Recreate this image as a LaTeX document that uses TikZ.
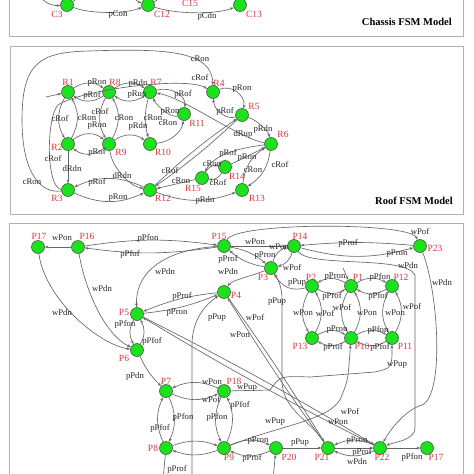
\documentclass[tikz,border=0pt]{standalone}
\usepackage{fontspec}
\setmainfont{Liberation Serif}
\usetikzlibrary{arrows.meta}
\definecolor{stgreen}{RGB}{30,225,30}
\definecolor{nlred}{RGB}{210,55,60}
\begin{document}
\begin{tikzpicture}[x=1pt,y=-1pt,
 st/.style={circle,draw=black!75,fill=stgreen,line width=0.5pt,minimum size=13pt,inner sep=0pt},
 nl/.style={text=nlred,font=\fontsize{9.5}{9.5}\selectfont,inner sep=0pt},
 el/.style={text=black!85,font=\fontsize{8.7}{8.7}\selectfont,inner sep=0pt},
 ed/.style={draw=black!60,line width=0.65pt,-{Stealth[length=3.8pt,width=2.8pt]}},
 ln/.style={draw=black!60,line width=0.65pt},
 frame/.style={draw=black!30,line width=0.9pt},
 ttl/.style={font=\bfseries\fontsize{10.5}{10.5}\selectfont,anchor=east,inner sep=0pt}]
\useasboundingbox (0,0) rectangle (474,474);
\clip (0,0) rectangle (474,474);
\fill[white] (0,0) rectangle (474,474);
% ---------------- frames
\draw[frame] (9,-5) rectangle (463,36);
\draw[frame] (10,46) rectangle (463,214);
\draw[frame] (9,223) rectangle (463,490);
\node[ttl] (t1) at (452,22) {Chassis FSM Model};
\node[ttl] (t2) at (453,201) {Roof FSM Model};
% ---------------- chassis
\node[st] (C3) at (67,5) {};
\node[st] (C12) at (148,5) {};
\node[st] (C13) at (240,5) {};
\node[nl] (C3l) at (57,14) {C3};
\node[nl] (C12l) at (162,14) {C12};
\node[nl] (C13l) at (254,14) {C13};
\node[nl] (C15l) at (190,3) {C15};
\coordinate (cA) at (36,-8);
\coordinate (cB) at (95,-10);
\coordinate (cC) at (122,-10);
\coordinate (cD) at (170,-10);
\draw[ed] (cA) .. controls (42,2) and (52,6) .. (C3);
\draw[ln] (C3) .. controls (78,-2) and (88,-6) .. (cB);
\draw[ed] (cC) .. controls (132,-4) and (138,2) .. (C12);
\draw[ln] (C12) .. controls (158,0) and (164,-6) .. (cD);
\draw[ed] (C3) .. controls (90,14) and (125,14) .. (C12);
\draw[ed] (C12) .. controls (175,14) and (215,15) .. (C13);
\node[el] (lc1) at (118,15) {pCon};
\node[el] (lc2) at (207,16) {pCdn};
% ---------------- roof
\node[st] (R1) at (68,92) {};
\node[st] (R8) at (109,92) {};
\node[st] (R7) at (150,92) {};
\node[st] (R4) at (213,92) {};
\node[st] (R5) at (242,115) {};
\node[st] (R6) at (271,144) {};
\node[st] (R11) at (184,114) {};
\node[st] (R2) at (68,144) {};
\node[st] (R9) at (109,144) {};
\node[st] (R10) at (150,144) {};
\node[st] (R3) at (68,190) {};
\node[st] (R12) at (150,190) {};
\node[st] (R15) at (202,178) {};
\node[st] (R14) at (225,167) {};
\node[st] (R13) at (242,190) {};
\node[nl] (R1l) at (68,82) {R1};
\node[nl] (R8l) at (115,82) {R8};
\node[nl] (R7l) at (156,82) {R7};
\node[nl] (R4l) at (219,83) {R4};
\node[nl] (R5l) at (254,106) {R5};
\node[nl] (R6l) at (283,134) {R6};
\node[nl] (R11l) at (197,123) {R11};
\node[nl] (R2l) at (57,147) {R2};
\node[nl] (R9l) at (121,152) {R9};
\node[nl] (R10l) at (163,152) {R10};
\node[nl] (R3l) at (57,198) {R3};
\node[nl] (R12l) at (163,198) {R12};
\node[nl] (R15l) at (193,188) {R15};
\node[nl] (R14l) at (237,176) {R14};
\node[nl] (R13l) at (257,198) {R13};
\coordinate (cR0) at (46,97);
\draw[ed] (cR0) -- (R1);
\draw[ed] (R1) to[bend left=35] (R8);
\draw[ed] (R8) to[bend left=35] (R1);
\draw[ed] (R8) to[bend left=35] (R7);
\draw[ed] (R7) to[bend left=35] (R8);
\draw[ed] (R1) to[bend right=30] (R2);
\draw[ed] (R2) to[bend right=30] (R1);
\draw[ed] (R8) to[bend right=30] (R9);
\draw[ed] (R9) to[bend right=30] (R8);
\draw[ed] (R2) to[bend left=40] (R9);
\draw[ed] (R9) to[bend left=40] (R2);
\draw[ed] (R9) to[bend left=35] (R10);
\draw[ed] (R7) to[bend right=15] (R10);
\draw[ed] (R7) .. controls (172,86) and (186,96) .. (R11);
\draw[ed] (R11) .. controls (172,118) and (158,108) .. (R7);
\draw[ed] (R10) .. controls (170,142) and (182,132) .. (R11);
\draw[ed] (R2) -- (R3);
\draw[ed] (R3) .. controls (46,188) and (46,118) .. (58,105) .. controls (80,90) and (185,76) .. (R4);
\draw[ed] (R3) .. controls (40,194) and (22,172) .. (22,120) .. controls (22,62) and (40,52) .. (90,51) .. controls (170,48) and (212,52) .. (R4);
\draw[ed] (R4) .. controls (232,84) and (246,96) .. (R5);
\draw[ed] (R5) .. controls (226,120) and (214,110) .. (R4);
\draw[ed] (R5) .. controls (256,120) and (268,130) .. (R6);
\draw[ed] (R6) .. controls (238,138) and (185,98) .. (R7);
\draw[ed] (R12) to[bend left=4] (R5);
\draw[ed] (R5) to[bend left=4] (R12);
\draw[ed] (R6) to[bend left=25] (R13);
\draw[ed] (R13) to[bend left=25] (R6);
\draw[ed] (R6) .. controls (240,148) and (214,154) .. (R15);
\draw[ed] (R14) .. controls (240,160) and (256,152) .. (R6);
\draw[ed] (R15) to[bend left=35] (R14);
\draw[ed] (R14) to[bend left=35] (R15);
\draw[ed] (R15) -- (R12);
\draw[ed] (R12) to[bend right=20] (R13);
\draw[ed] (R12) to[bend right=25] (R3);
\draw[ed] (R3) to[bend right=25] (R12);
\draw[ed] (R9) .. controls (112,168) and (130,186) .. (R12);
\node[el] (r1) at (97,83) {pRon};
\node[el] (r2) at (92,95) {pRof};
\node[el] (r3) at (138,83) {pRdn};
\node[el] (r4) at (137,95) {pRup};
\node[el] (r5) at (60,118) {cRof};
\node[el] (r6) at (87,118) {cRon};
\node[el] (r7) at (100,111) {cRof};
\node[el] (r8) at (124,118) {cRon};
\node[el] (r9) at (97,126) {pRon};
\node[el] (r10) at (97,152) {pRof};
\node[el] (r11) at (138,126) {pRdn};
\node[el] (r12) at (153,118) {cRon};
\node[el] (r13) at (183,94) {pRof};
\node[el] (r14) at (170,112) {pRon};
\node[el] (r15) at (168,123) {cRon};
\node[el] (r16) at (72,169) {dRdn};
\node[el] (r17) at (53,158) {cRof};
\node[el] (r18) at (200,77) {cRof};
\node[el] (r19) at (32,182) {cRon};
\node[el] (r20) at (200,59) {cRon};
\node[el] (r21) at (242,89) {pRon};
\node[el] (r22) at (225,111) {pRof};
\node[el] (r23) at (263,129) {pRdn};
\node[el] (r24) at (243,134) {dRup};
\node[el] (r25) at (170,170) {cRof};
\node[el] (r26) at (280,164) {cRof};
\node[el] (r27) at (253,170) {cRon};
\node[el] (r28) at (228,153) {pRof};
\node[el] (r29) at (247,158) {pRon};
\node[el] (r30) at (212,164) {cRon};
\node[el] (r31) at (218,182) {cRof};
\node[el] (r32) at (181,181) {cRon};
\node[el] (r33) at (205,200) {pRdn};
\node[el] (r34) at (97,182) {pRof};
\node[el] (r35) at (118,198) {pRon};
\node[el] (r36) at (122,176) {dRdn};
% ---------------- bottom panel
\node[st] (P17a) at (38,247) {};
\node[st] (P16) at (78,247) {};
\node[st] (P15) at (224,246) {};
\node[st] (P4) at (224,292) {};
\node[st] (P5) at (137,314) {};
\node[st] (P14) at (294,246) {};
\node[st] (P3) at (271,268) {};
\node[st] (P23) at (420,246) {};
\node[st] (P2) at (312,286) {};
\node[st] (P1) at (351,286) {};
\node[st] (P12) at (392,286) {};
\node[st] (P13) at (312,338) {};
\node[st] (P10) at (351,338) {};
\node[st] (P11) at (392,338) {};
\node[st] (P6) at (137,350) {};
\node[st] (P7) at (166,391) {};
\node[st] (P18) at (224,391) {};
\node[st] (P8) at (166,448) {};
\node[st] (P9) at (224,448) {};
\node[st] (P20) at (276,448) {};
\node[st] (P21) at (328,448) {};
\node[st] (P22) at (380,448) {};
\node[st] (P17b) at (427,448) {};
\node[nl] (P17al) at (39,236) {P17};
\node[nl] (P16l) at (87,236) {P16};
\node[nl] (P15l) at (219,236) {P15};
\node[nl] (P4l) at (236,295) {P4};
\node[nl] (P5l) at (124,312) {P5};
\node[nl] (P14l) at (300,236) {P14};
\node[nl] (P3l) at (263,277) {P3};
\node[nl] (P23l) at (435,248) {P23};
\node[nl] (P2l) at (311,277) {P2};
\node[nl] (P1l) at (358,277) {P1};
\node[nl] (P12l) at (401,277) {P12};
\node[nl] (P13l) at (300,346) {P13};
\node[nl] (P10l) at (362,346) {P10};
\node[nl] (P11l) at (405,346) {P11};
\node[nl] (P6l) at (124,358) {P6};
\node[nl] (P7l) at (166,381) {P7};
\node[nl] (P18l) at (234,381) {P18};
\node[nl] (P8l) at (153,448) {P8};
\node[nl] (P9l) at (229,457) {P9};
\node[nl] (P20l) at (289,457) {P20};
\node[nl] (P21l) at (322,457) {P21};
\node[nl] (P22l) at (382,457) {P22};
\node[nl] (P17bl) at (436,457) {P17};
\coordinate (cP0) at (343,268);
\coordinate (cPb1) at (192,480);
\coordinate (cPb4) at (163,480);
\coordinate (cPb5) at (273,480);
\draw[ed] (P16) -- (P17a);
\draw[ed] (P16) to[bend left=8] (P15);
\draw[ed] (P15) to[bend left=8] (P16);
\draw[ed] (P16) .. controls (85,290) and (105,335) .. (P6);
\draw[ed] (P17a) .. controls (45,300) and (100,345) .. (P6);
\draw[ed] (P15) .. controls (160,250) and (135,275) .. (P5);
\draw[ed] (P4) to[bend right=8] (P5);
\draw[ed] (P5) to[bend right=8] (P4);
\draw[ed] (P5) to[bend right=30] (P6);
\draw[ed] (P6) to[bend right=30] (P5);
\draw[ed] (P6) to[bend right=10] (P7);
\draw[ed] (P18) to[bend right=25] (P7);
\draw[ed] (P7) to[bend right=25] (P18);
\draw[ed] (P7) to[bend left=25] (P8);
\draw[ed] (P8) to[bend left=25] (P7);
\draw[ed] (P18) to[bend right=25] (P9);
\draw[ed] (P9) to[bend right=25] (P18);
\draw[ed] (P8) to[bend left=20] (P9);
\draw[ed] (P9) to[bend left=20] (P8);
\draw[ed] (P9) to[bend left=25] (P20);
\draw[ed] (P20) to[bend left=25] (P9);
\draw[ed] (P20) -- (P21);
\draw[ed] (P22) to[bend right=25] (P21);
\draw[ed] (P21) -- (P22);
\draw[ed] (P22) to[bend left=25] (P21);
\draw[ed] (P22) -- (P17b);
\draw[ed] (P5) to[bend left=2] (P22);
\draw[ed] (P22) to[bend left=2] (P5);
\draw[ed] (P4) to[bend left=2] (P21);
\draw[ed] (P21) to[bend left=2] (P4);
\draw[ed] (cPb1) -- (192,345) .. controls (192,320) and (205,305) .. (P4);
\draw[ed] (P21) .. controls (310,420) and (282,410) .. (282,380) -- (282,300) .. controls (282,286) and (278,280) .. (P3);
\draw[ed] (P2) .. controls (294,291) and (283,289) .. (P3);
\draw[ed] (P3) to[bend left=30] (P14);
\draw[ed] (P14) to[bend left=30] (P3);
\draw[ed] (P15) -- (P14);
\draw[ed] (P15) to[bend left=15] (P3);
\draw[ed] (P3) to[bend left=15] (P15);
\draw[ed] (P3) .. controls (252,276) and (232,280) .. (P4);
\draw[ed] (P23) to[bend right=5] (P14);
\draw[ed] (P14) to[bend right=15] (P23);
\draw[ed] (P15) .. controls (235,222) and (410,222) .. (P23);
\draw[ed] (P14) .. controls (310,268) and (405,255) .. (415,275) -- (415,428) .. controls (415,440) and (395,442) .. (P22);
\draw[ed] (P23) .. controls (438,290) and (445,395) .. (422,405) .. controls (405,410) and (390,430) .. (P22);
\draw[ed] (cP0) -- (P1);
\draw[ed] (P1) to[bend right=30] (P2);
\draw[ed] (P2) to[bend right=30] (P1);
\draw[ed] (P1) to[bend left=30] (P12);
\draw[ed] (P12) to[bend left=30] (P1);
\draw[ed] (P2) to[bend right=30] (P13);
\draw[ed] (P13) to[bend right=30] (P2);
\draw[ed] (P1) to[bend right=30] (P10);
\draw[ed] (P10) to[bend right=30] (P1);
\draw[ed] (P12) to[bend right=30] (P11);
\draw[ed] (P11) to[bend right=30] (P12);
\draw[ed] (P13) to[bend left=30] (P10);
\draw[ed] (P10) to[bend left=30] (P13);
\draw[ed] (P10) to[bend left=30] (P11);
\draw[ed] (P11) to[bend left=30] (P10);
\draw[ed] (P18) -- (270,390) .. controls (280,376) .. (310,377) -- (375,372) .. controls (392,368) .. (P11);
\draw[ed] (P9) .. controls (280,425) and (335,420) .. (342,395) .. controls (348,380) .. (P10);
\draw[ed] (P8) -- (cPb4);
\draw[ed] (cPb5) -- (P20);
\node[el] (q1) at (62,238) {wPon};
\node[el] (q2) at (148,238) {pPfon};
\node[el] (q3) at (130,254) {pPfof};
\node[el] (q4) at (102,289) {wPdn};
\node[el] (q5) at (62,313) {wPdn};
\node[el] (q6) at (165,272) {wPdn};
\node[el] (q7) at (182,296) {pProf};
\node[el] (q8) at (177,313) {pPron};
\node[el] (q9) at (125,324) {pPfon};
\node[el] (q10) at (152,341) {pPfof};
\node[el] (q11) at (135,376) {pPdn};
\node[el] (q12) at (212,382) {wPon};
\node[el] (q13) at (211,399) {wPof};
\node[el] (q14) at (183,417) {pPfon};
\node[el] (q15) at (160,428) {pPfof};
\node[el] (q16) at (217,417) {pPfon};
\node[el] (q17) at (240,405) {pPfof};
\node[el] (q18) at (258,441) {pPron};
\node[el] (q19) at (252,458) {pProf};
\node[el] (q20) at (300,443) {pPup};
\node[el] (q21) at (357,441) {pPron};
\node[el] (q22) at (362,452) {pProf};
\node[el] (q23) at (357,462) {wPdn};
\node[el] (q24) at (412,457) {pPfon};
\node[el] (q25) at (350,411) {wPof};
\node[el] (q26) at (338,422) {wPon};
\node[el] (q27) at (255,317) {wPof};
\node[el] (q28) at (240,335) {wPon};
\node[el] (q29) at (217,318) {pPup};
\node[el] (q30) at (277,302) {pPup};
\node[el] (q31) at (297,283) {pPup};
\node[el] (q32) at (279,247) {wPon};
\node[el] (q33) at (292,267) {wPof};
\node[el] (q34) at (255,242) {wPon};
\node[el] (q35) at (265,256) {pPron};
\node[el] (q36) at (228,259) {pProf};
\node[el] (q37) at (228,272) {wPdn};
\node[el] (q38) at (348,243) {pProf};
\node[el] (q39) at (397,254) {pPron};
\node[el] (q40) at (420,231) {wPof};
\node[el] (q41) at (408,266) {wPdn};
\node[el] (q42) at (442,283) {wPdn};
\node[el] (q43) at (335,277) {pPron};
\node[el] (q44) at (332,296) {pProf};
\node[el] (q45) at (380,277) {pPfon};
\node[el] (q46) at (378,296) {pPfof};
\node[el] (q47) at (303,313) {wPon};
\node[el] (q48) at (325,313) {wPof};
\node[el] (q49) at (342,307) {wPof};
\node[el] (q50) at (367,313) {wPon};
\node[el] (q51) at (395,313) {wPon};
\node[el] (q52) at (412,306) {wPof};
\node[el] (q53) at (337,330) {pPron};
\node[el] (q54) at (333,347) {pProf};
\node[el] (q55) at (378,330) {pPfon};
\node[el] (q56) at (380,347) {pPfof};
\node[el] (q57) at (247,388) {wPup};
\node[el] (q58) at (397,365) {wPup};
\node[el] (q59) at (275,422) {wPup};
\node[el] (q60) at (177,469) {pProf};
\end{tikzpicture}
\end{document}
